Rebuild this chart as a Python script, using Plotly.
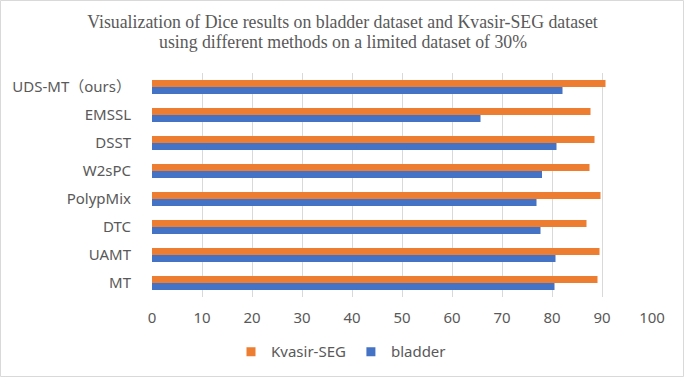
import plotly.graph_objects as go

methods = ["MT", "UAMT", "DTC", "PolypMix", "W2sPC", "DSST", "EMSSL", "UDS-MT（ours）"]
kvasir = [89.1, 89.5, 86.9, 89.7, 87.5, 88.5, 87.7, 90.7]
bladder = [80.5, 80.7, 77.7, 76.9, 78.0, 80.9, 65.7, 82.1]
x_ticks = [0, 10, 20, 30, 40, 50, 60, 70, 80, 90, 100]

title_line1 = "Visualization of Dice results on bladder dataset and Kvasir-SEG dataset"
title_line2 = "using different methods on a limited dataset of 30%"

BLUE = "#4472C4"
ORANGE = "#ED7D31"
tick_font = dict(family="Noto Sans, Noto Sans CJK JP, sans-serif", size=15, color="#595959")
title_font = dict(family="Liberation Serif, Times New Roman, serif", size=17.8, color="#595959")

fig = go.Figure()
fig.add_trace(go.Bar(y=methods, x=bladder, orientation="h", name="bladder",
                     marker=dict(color=BLUE, line=dict(width=0)), showlegend=False))
fig.add_trace(go.Bar(y=methods, x=kvasir, orientation="h", name="Kvasir-SEG",
                     marker=dict(color=ORANGE, line=dict(width=0)), showlegend=False))
# legend entries with small square swatches
fig.add_trace(go.Scatter(x=[None], y=[None], mode="markers", name="bladder",
                         marker=dict(symbol="square", size=9, color=BLUE)))
fig.add_trace(go.Scatter(x=[None], y=[None], mode="markers", name="Kvasir-SEG",
                         marker=dict(symbol="square", size=9, color=ORANGE)))

fig.update_layout(
    width=685, height=377,
    margin=dict(l=152, r=33, t=73, b=80, autoexpand=False),
    paper_bgcolor="white", plot_bgcolor="white",
    barmode="group", bargap=0.5, bargroupgap=0,
    title=dict(text=title_line1, x=0.5, xanchor="center", yref="container",
               y=1 - 21.5 / 377, yanchor="middle", automargin=False, font=title_font),
    xaxis=dict(range=[0, 100], tickvals=x_ticks, showgrid=True, gridcolor="#D9D9D9", gridwidth=1,
               zeroline=False, showline=False, tickfont=tick_font, ticks="", ticklabelstandoff=10,
               automargin=False),
    yaxis=dict(categoryorder="array", categoryarray=methods, showgrid=False, zeroline=False,
               showline=False, tickfont=tick_font, ticks="", ticklabelstandoff=20,
               automargin=False),
    legend=dict(orientation="h", x=0.378, xanchor="center", y=-0.245, yanchor="middle",
                traceorder="reversed", font=tick_font, itemwidth=30),
    showlegend=True,
)
fig.add_annotation(text=title_line2, xref="paper", yref="paper", x=(342.5 - 152) / 500,
                   xanchor="center", y=(297 - 41.5) / 224, yanchor="middle",
                   showarrow=False, font=title_font)
fig.add_shape(type="rect", xref="paper", yref="paper",
              x0=-151.5 / 500, x1=531.5 / 500, y0=-79.5 / 224, y1=1 + 72.5 / 224,
              line=dict(color="#D9D9D9", width=1), fillcolor="rgba(0,0,0,0)", layer="below")

fig.write_html("out.html", config={"displayModeBar": False},
               post_script="document.body.style.margin='0';")
